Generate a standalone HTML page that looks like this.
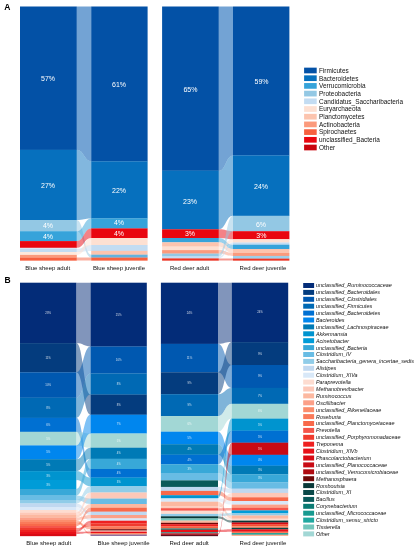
<!DOCTYPE html>
<html><head><meta charset="utf-8"><title>Figure</title>
<style>
html,body{margin:0;padding:0;background:#fff;}
svg{display:block;font-family:"Liberation Sans",Arial,sans-serif;}
</style></head><body>
<svg width="417" height="550" viewBox="0 0 417 550">
<rect width="417" height="550" fill="#fff"/>
<g shape-rendering="geometricPrecision">
<rect x="20" y="6.5" width="56.8" height="143.45" fill="#0351a6"/>
<rect x="20" y="149.8" width="56.8" height="70.35" fill="#0670be"/>
<rect x="20" y="220.0" width="56.8" height="11.35" fill="#93c8e4"/>
<rect x="20" y="231.2" width="56.8" height="10.05" fill="#36a3da"/>
<rect x="20" y="241.1" width="56.8" height="6.85" fill="#e9060f"/>
<rect x="20" y="247.8" width="56.8" height="1.15" fill="#dfe9f5"/>
<rect x="20" y="248.8" width="56.8" height="3.35" fill="#c3dcf2"/>
<rect x="20" y="252.0" width="56.8" height="3.05" fill="#fee8dc"/>
<rect x="20" y="254.9" width="56.8" height="2.85" fill="#fb9a7c"/>
<rect x="20" y="257.6" width="56.8" height="3.05" fill="#f7603f"/>
<rect x="91.2" y="6.5" width="56.4" height="154.95" fill="#0351a6"/>
<rect x="91.2" y="161.3" width="56.4" height="57.25" fill="#0670be"/>
<rect x="91.2" y="218.4" width="56.4" height="10.15" fill="#36a3da"/>
<rect x="91.2" y="228.4" width="56.4" height="9.75" fill="#e9060f"/>
<rect x="91.2" y="238.0" width="56.4" height="7.15" fill="#fde0d2"/>
<rect x="91.2" y="245.0" width="56.4" height="6.05" fill="#c3dcf2"/>
<rect x="91.2" y="250.9" width="56.4" height="3.95" fill="#fcc4ae"/>
<rect x="91.2" y="254.7" width="56.4" height="3.05" fill="#62b2de"/>
<rect x="91.2" y="257.6" width="56.4" height="3.05" fill="#f7603f"/>
<rect x="162.1" y="6.5" width="56.7" height="164.35" fill="#0351a6"/>
<rect x="162.1" y="170.7" width="56.7" height="58.75" fill="#0670be"/>
<rect x="162.1" y="229.3" width="56.7" height="8.85" fill="#e9060f"/>
<rect x="162.1" y="238.0" width="56.7" height="4.45" fill="#36a3da"/>
<rect x="162.1" y="242.3" width="56.7" height="4.45" fill="#fcc4ae"/>
<rect x="162.1" y="246.6" width="56.7" height="3.65" fill="#fde0d2"/>
<rect x="162.1" y="250.1" width="56.7" height="3.65" fill="#fb9a7c"/>
<rect x="162.1" y="253.6" width="56.7" height="3.05" fill="#93c8e4"/>
<rect x="162.1" y="256.5" width="56.7" height="2.05" fill="#c3dcf2"/>
<rect x="162.1" y="258.4" width="56.7" height="2.25" fill="#ec3222"/>
<rect x="233" y="6.5" width="56.4" height="149.05" fill="#0351a6"/>
<rect x="233" y="155.4" width="56.4" height="60.55" fill="#0670be"/>
<rect x="233" y="215.8" width="56.4" height="15.55" fill="#93c8e4"/>
<rect x="233" y="231.2" width="56.4" height="8.15" fill="#e9060f"/>
<rect x="233" y="239.2" width="56.4" height="3.45" fill="#fde0d2"/>
<rect x="233" y="242.5" width="56.4" height="2.35" fill="#c3dcf2"/>
<rect x="233" y="244.7" width="56.4" height="4.45" fill="#36a3da"/>
<rect x="233" y="249.0" width="56.4" height="4.15" fill="#fcc4ae"/>
<rect x="233" y="253.0" width="56.4" height="3.05" fill="#fb9a7c"/>
<rect x="233" y="255.9" width="56.4" height="2.85" fill="#9ccfea"/>
<rect x="233" y="258.6" width="56.4" height="2.05" fill="#ec3222"/>
<path d="M76.8,6.5C84.0,6.5 84.0,6.5 91.2,6.5L91.2,161.3C84.0,161.3 84.0,149.8 76.8,149.8Z" fill="#0058b0" fill-opacity="0.55"/>
<path d="M76.8,149.8C84.0,149.8 84.0,161.3 91.2,161.3L91.2,218.4C84.0,218.4 84.0,220.0 76.8,220.0Z" fill="#0670be" fill-opacity="0.5"/>
<path d="M76.8,220.0C84.0,220.0 84.0,254.7 91.2,254.7L91.2,257.6C84.0,257.6 84.0,231.2 76.8,231.2Z" fill="#93c8e4" fill-opacity="0.5"/>
<path d="M76.8,231.2C84.0,231.2 84.0,218.4 91.2,218.4L91.2,228.4C84.0,228.4 84.0,241.1 76.8,241.1Z" fill="#36a3da" fill-opacity="0.5"/>
<path d="M76.8,241.1C84.0,241.1 84.0,228.4 91.2,228.4L91.2,238.0C84.0,238.0 84.0,247.8 76.8,247.8Z" fill="#e9060f" fill-opacity="0.5"/>
<path d="M76.8,248.8C84.0,248.8 84.0,245.0 91.2,245.0L91.2,250.9C84.0,250.9 84.0,252.0 76.8,252.0Z" fill="#c3dcf2" fill-opacity="0.5"/>
<path d="M76.8,252.0C84.0,252.0 84.0,238.0 91.2,238.0L91.2,245.0C84.0,245.0 84.0,254.9 76.8,254.9Z" fill="#fde0d2" fill-opacity="0.5"/>
<path d="M76.8,257.6C84.0,257.6 84.0,257.6 91.2,257.6L91.2,260.5C84.0,260.5 84.0,260.5 76.8,260.5Z" fill="#f7603f" fill-opacity="0.5"/>
<path d="M218.8,6.5C225.9,6.5 225.9,6.5 233,6.5L233,155.4C225.9,155.4 225.9,170.7 218.8,170.7Z" fill="#0058b0" fill-opacity="0.55"/>
<path d="M218.8,170.7C225.9,170.7 225.9,155.4 233,155.4L233,215.8C225.9,215.8 225.9,229.3 218.8,229.3Z" fill="#0670be" fill-opacity="0.5"/>
<path d="M218.8,229.3C225.9,229.3 225.9,231.2 233,231.2L233,239.2C225.9,239.2 225.9,238.0 218.8,238.0Z" fill="#e9060f" fill-opacity="0.5"/>
<path d="M218.8,238.0C225.9,238.0 225.9,244.7 233,244.7L233,249.0C225.9,249.0 225.9,242.3 218.8,242.3Z" fill="#36a3da" fill-opacity="0.5"/>
<path d="M218.8,242.3C225.9,242.3 225.9,249.0 233,249.0L233,253.0C225.9,253.0 225.9,246.6 218.8,246.6Z" fill="#fcc4ae" fill-opacity="0.5"/>
<path d="M218.8,246.6C225.9,246.6 225.9,239.2 233,239.2L233,242.5C225.9,242.5 225.9,250.1 218.8,250.1Z" fill="#fde0d2" fill-opacity="0.5"/>
<path d="M218.8,250.1C225.9,250.1 225.9,253.0 233,253.0L233,255.9C225.9,255.9 225.9,253.6 218.8,253.6Z" fill="#fb9a7c" fill-opacity="0.5"/>
<path d="M218.8,253.6C225.9,253.6 225.9,215.8 233,215.8L233,231.2C225.9,231.2 225.9,256.5 218.8,256.5Z" fill="#93c8e4" fill-opacity="0.5"/>
<path d="M218.8,256.5C225.9,256.5 225.9,242.5 233,242.5L233,244.7C225.9,244.7 225.9,258.4 218.8,258.4Z" fill="#c3dcf2" fill-opacity="0.5"/>
<path d="M218.8,258.4C225.9,258.4 225.9,258.6 233,258.6L233,260.5C225.9,260.5 225.9,260.5 218.8,260.5Z" fill="#ec3222" fill-opacity="0.5"/>
<rect x="20" y="282.7" width="56.3" height="60.55" fill="#032c78"/>
<rect x="20" y="343.1" width="56.3" height="29.35" fill="#043c7e"/>
<rect x="20" y="372.3" width="56.3" height="25.55" fill="#0058b0"/>
<rect x="20" y="397.7" width="56.3" height="20.25" fill="#0069b4"/>
<rect x="20" y="417.8" width="56.3" height="14.15" fill="#0070d2"/>
<rect x="20" y="431.8" width="56.3" height="13.75" fill="#a2d7d5"/>
<rect x="20" y="445.4" width="56.3" height="13.95" fill="#0086ee"/>
<rect x="20" y="459.2" width="56.3" height="12.05" fill="#007ab6"/>
<rect x="20" y="471.1" width="56.3" height="9.05" fill="#0094cf"/>
<rect x="20" y="480.0" width="56.3" height="9.15" fill="#009cd8"/>
<rect x="20" y="489.0" width="56.3" height="6.75" fill="#38a8d8"/>
<rect x="20" y="495.6" width="56.3" height="4.55" fill="#68bce4"/>
<rect x="20" y="500.0" width="56.3" height="3.65" fill="#90cce8"/>
<rect x="20" y="503.5" width="56.3" height="3.65" fill="#c0d8f0"/>
<rect x="20" y="507.0" width="56.3" height="3.15" fill="#d8e8f8"/>
<rect x="20" y="510.0" width="56.3" height="2.65" fill="#fddcd0"/>
<rect x="20" y="512.5" width="56.3" height="2.65" fill="#fdc8b8"/>
<rect x="20" y="515.0" width="56.3" height="2.65" fill="#fcb8a0"/>
<rect x="20" y="517.5" width="56.3" height="2.65" fill="#fca088"/>
<rect x="20" y="520.0" width="56.3" height="2.15" fill="#fb8d6c"/>
<rect x="20" y="522.0" width="56.3" height="2.15" fill="#fa7a5a"/>
<rect x="20" y="524.0" width="56.3" height="2.15" fill="#f8694a"/>
<rect x="20" y="526.0" width="56.3" height="2.15" fill="#f5554a"/>
<rect x="20" y="528.0" width="56.3" height="2.15" fill="#f03b2e"/>
<rect x="20" y="530.0" width="56.3" height="2.15" fill="#ee2020"/>
<rect x="20" y="532.0" width="56.3" height="2.15" fill="#e81018"/>
<rect x="20" y="534.0" width="56.3" height="2.15" fill="#d80a14"/>
<rect x="90.5" y="282.7" width="56.3" height="63.95" fill="#032c78"/>
<rect x="90.5" y="346.5" width="56.3" height="27.05" fill="#0058b0"/>
<rect x="90.5" y="373.4" width="56.3" height="21.35" fill="#0069b4"/>
<rect x="90.5" y="394.6" width="56.3" height="20.25" fill="#043c7e"/>
<rect x="90.5" y="414.7" width="56.3" height="18.95" fill="#0086ee"/>
<rect x="90.5" y="433.5" width="56.3" height="14.35" fill="#a2d7d5"/>
<rect x="90.5" y="447.7" width="56.3" height="11.25" fill="#007ab6"/>
<rect x="90.5" y="458.8" width="56.3" height="10.35" fill="#38a8d8"/>
<rect x="90.5" y="469.0" width="56.3" height="8.75" fill="#0070d2"/>
<rect x="90.5" y="477.6" width="56.3" height="8.85" fill="#0094cf"/>
<rect x="90.5" y="486.3" width="56.3" height="6.35" fill="#90cce8"/>
<rect x="90.5" y="492.5" width="56.3" height="6.25" fill="#fdc8b8"/>
<rect x="90.5" y="498.6" width="56.3" height="5.55" fill="#68bce4"/>
<rect x="90.5" y="504.0" width="56.3" height="3.95" fill="#fcb8a0"/>
<rect x="90.5" y="507.8" width="56.3" height="4.05" fill="#f8694a"/>
<rect x="90.5" y="511.7" width="56.3" height="3.45" fill="#c0d8f0"/>
<rect x="90.5" y="515.0" width="56.3" height="3.55" fill="#fca088"/>
<rect x="90.5" y="518.4" width="56.3" height="2.45" fill="#d8e8f8"/>
<rect x="90.5" y="520.7" width="56.3" height="2.85" fill="#ee2020"/>
<rect x="90.5" y="523.4" width="56.3" height="3.05" fill="#f03b2e"/>
<rect x="90.5" y="526.3" width="56.3" height="3.05" fill="#fa7a5a"/>
<rect x="90.5" y="529.2" width="56.3" height="1.55" fill="#700808"/>
<rect x="90.5" y="530.6" width="56.3" height="1.15" fill="#fddcd0"/>
<rect x="90.5" y="531.6" width="56.3" height="1.55" fill="#e81018"/>
<rect x="90.5" y="533.0" width="56.3" height="1.65" fill="#fb8d6c"/>
<rect x="90.5" y="534.5" width="56.3" height="1.45" fill="#8a6a98"/>
<rect x="160.9" y="282.7" width="57.1" height="61.25" fill="#032c78"/>
<rect x="160.9" y="343.8" width="57.1" height="28.65" fill="#0058b0"/>
<rect x="160.9" y="372.3" width="57.1" height="22.05" fill="#043c7e"/>
<rect x="160.9" y="394.2" width="57.1" height="22.05" fill="#0069b4"/>
<rect x="160.9" y="416.1" width="57.1" height="15.75" fill="#a2d7d5"/>
<rect x="160.9" y="431.7" width="57.1" height="12.65" fill="#0086ee"/>
<rect x="160.9" y="444.2" width="57.1" height="10.65" fill="#007ab6"/>
<rect x="160.9" y="454.7" width="57.1" height="9.75" fill="#0070d2"/>
<rect x="160.9" y="464.3" width="57.1" height="8.85" fill="#38a8d8"/>
<rect x="160.9" y="473.0" width="57.1" height="7.55" fill="#68bce4"/>
<rect x="160.9" y="480.4" width="57.1" height="6.65" fill="#0a5a5a"/>
<rect x="160.9" y="486.9" width="57.1" height="4.15" fill="#c0d8f0"/>
<rect x="160.9" y="490.9" width="57.1" height="4.45" fill="#f8694a"/>
<rect x="160.9" y="495.2" width="57.1" height="3.35" fill="#0094cf"/>
<rect x="160.9" y="498.4" width="57.1" height="3.45" fill="#d8e8f8"/>
<rect x="160.9" y="501.7" width="57.1" height="4.65" fill="#fcb8a0"/>
<rect x="160.9" y="506.2" width="57.1" height="2.15" fill="#fdc8b8"/>
<rect x="160.9" y="508.2" width="57.1" height="2.65" fill="#f5554a"/>
<rect x="160.9" y="510.7" width="57.1" height="3.35" fill="#fddcd0"/>
<rect x="160.9" y="513.9" width="57.1" height="2.55" fill="#90cce8"/>
<rect x="160.9" y="516.3" width="57.1" height="2.25" fill="#083838"/>
<rect x="160.9" y="518.4" width="57.1" height="2.35" fill="#72c6bc"/>
<rect x="160.9" y="520.6" width="57.1" height="2.35" fill="#fcb8a0"/>
<rect x="160.9" y="522.8" width="57.1" height="1.55" fill="#700808"/>
<rect x="160.9" y="524.2" width="57.1" height="2.35" fill="#ee2020"/>
<rect x="160.9" y="526.4" width="57.1" height="2.05" fill="#f86040"/>
<rect x="160.9" y="528.3" width="57.1" height="1.75" fill="#487870"/>
<rect x="160.9" y="529.9" width="57.1" height="2.35" fill="#e81018"/>
<rect x="160.9" y="532.1" width="57.1" height="1.45" fill="#508880"/>
<rect x="160.9" y="533.4" width="57.1" height="1.45" fill="#c80a14"/>
<rect x="160.9" y="534.7" width="57.1" height="1.45" fill="#601020"/>
<rect x="231.7" y="282.7" width="56.5" height="59.55" fill="#032c78"/>
<rect x="231.7" y="342.1" width="56.5" height="23.05" fill="#043c7e"/>
<rect x="231.7" y="365.0" width="56.5" height="23.05" fill="#0058b0"/>
<rect x="231.7" y="387.9" width="56.5" height="16.05" fill="#0069b4"/>
<rect x="231.7" y="403.8" width="56.5" height="14.95" fill="#a2d7d5"/>
<rect x="231.7" y="418.6" width="56.5" height="12.25" fill="#0094cf"/>
<rect x="231.7" y="430.7" width="56.5" height="12.15" fill="#0070d2"/>
<rect x="231.7" y="442.7" width="56.5" height="12.25" fill="#c80a14"/>
<rect x="231.7" y="454.8" width="56.5" height="11.05" fill="#0086ee"/>
<rect x="231.7" y="465.7" width="56.5" height="8.75" fill="#007ab6"/>
<rect x="231.7" y="474.3" width="56.5" height="8.25" fill="#38a8d8"/>
<rect x="231.7" y="482.4" width="56.5" height="6.45" fill="#68bce4"/>
<rect x="231.7" y="488.7" width="56.5" height="4.35" fill="#c0d8f0"/>
<rect x="231.7" y="492.9" width="56.5" height="4.55" fill="#fdc8b8"/>
<rect x="231.7" y="497.3" width="56.5" height="3.85" fill="#f8694a"/>
<rect x="231.7" y="501.0" width="56.5" height="3.75" fill="#d8e8f8"/>
<rect x="231.7" y="504.6" width="56.5" height="3.45" fill="#fca088"/>
<rect x="231.7" y="507.9" width="56.5" height="2.65" fill="#f5554a"/>
<rect x="231.7" y="510.4" width="56.5" height="2.75" fill="#009cd8"/>
<rect x="231.7" y="513.0" width="56.5" height="2.65" fill="#90cce8"/>
<rect x="231.7" y="515.5" width="56.5" height="3.35" fill="#fcb8a0"/>
<rect x="231.7" y="518.7" width="56.5" height="2.05" fill="#fddcd0"/>
<rect x="231.7" y="520.6" width="56.5" height="2.05" fill="#083838"/>
<rect x="231.7" y="522.5" width="56.5" height="2.15" fill="#d80a14"/>
<rect x="231.7" y="524.5" width="56.5" height="2.05" fill="#f85030"/>
<rect x="231.7" y="526.4" width="56.5" height="1.55" fill="#fb8d6c"/>
<rect x="231.7" y="527.8" width="56.5" height="1.65" fill="#0a4848"/>
<rect x="231.7" y="529.3" width="56.5" height="2.55" fill="#e81018"/>
<rect x="231.7" y="531.7" width="56.5" height="1.55" fill="#fa7a5a"/>
<rect x="231.7" y="533.1" width="56.5" height="1.75" fill="#189a90"/>
<rect x="231.7" y="534.7" width="56.5" height="1.25" fill="#fbb090"/>
<path d="M76.3,282.7C83.4,282.7 83.4,282.7 90.5,282.7L90.5,346.5C83.4,346.5 83.4,343.1 76.3,343.1Z" fill="#032c78" fill-opacity="0.5"/>
<path d="M76.3,343.1C83.4,343.1 83.4,394.6 90.5,394.6L90.5,414.7C83.4,414.7 83.4,372.3 76.3,372.3Z" fill="#043c7e" fill-opacity="0.5"/>
<path d="M76.3,372.3C83.4,372.3 83.4,346.5 90.5,346.5L90.5,373.4C83.4,373.4 83.4,397.7 76.3,397.7Z" fill="#0058b0" fill-opacity="0.5"/>
<path d="M76.3,397.7C83.4,397.7 83.4,373.4 90.5,373.4L90.5,394.6C83.4,394.6 83.4,417.8 76.3,417.8Z" fill="#0069b4" fill-opacity="0.5"/>
<path d="M76.3,417.8C83.4,417.8 83.4,469.0 90.5,469.0L90.5,477.6C83.4,477.6 83.4,431.8 76.3,431.8Z" fill="#0070d2" fill-opacity="0.5"/>
<path d="M76.3,431.8C83.4,431.8 83.4,433.5 90.5,433.5L90.5,447.7C83.4,447.7 83.4,445.4 76.3,445.4Z" fill="#a2d7d5" fill-opacity="0.5"/>
<path d="M76.3,445.4C83.4,445.4 83.4,414.7 90.5,414.7L90.5,433.5C83.4,433.5 83.4,459.2 76.3,459.2Z" fill="#0086ee" fill-opacity="0.5"/>
<path d="M76.3,459.2C83.4,459.2 83.4,447.7 90.5,447.7L90.5,458.8C83.4,458.8 83.4,471.1 76.3,471.1Z" fill="#007ab6" fill-opacity="0.5"/>
<path d="M76.3,471.1C83.4,471.1 83.4,477.6 90.5,477.6L90.5,486.3C83.4,486.3 83.4,480.0 76.3,480.0Z" fill="#0094cf" fill-opacity="0.5"/>
<path d="M76.3,489.0C83.4,489.0 83.4,458.8 90.5,458.8L90.5,469.0C83.4,469.0 83.4,495.6 76.3,495.6Z" fill="#38a8d8" fill-opacity="0.5"/>
<path d="M76.3,495.6C83.4,495.6 83.4,498.6 90.5,498.6L90.5,504.0C83.4,504.0 83.4,500.0 76.3,500.0Z" fill="#68bce4" fill-opacity="0.5"/>
<path d="M76.3,500.0C83.4,500.0 83.4,486.3 90.5,486.3L90.5,492.5C83.4,492.5 83.4,503.5 76.3,503.5Z" fill="#90cce8" fill-opacity="0.5"/>
<path d="M76.3,503.5C83.4,503.5 83.4,511.7 90.5,511.7L90.5,515.0C83.4,515.0 83.4,507.0 76.3,507.0Z" fill="#c0d8f0" fill-opacity="0.5"/>
<path d="M76.3,507.0C83.4,507.0 83.4,518.4 90.5,518.4L90.5,520.7C83.4,520.7 83.4,510.0 76.3,510.0Z" fill="#d8e8f8" fill-opacity="0.5"/>
<path d="M76.3,510.0C83.4,510.0 83.4,530.6 90.5,530.6L90.5,531.6C83.4,531.6 83.4,512.5 76.3,512.5Z" fill="#fddcd0" fill-opacity="0.5"/>
<path d="M76.3,512.5C83.4,512.5 83.4,492.5 90.5,492.5L90.5,498.6C83.4,498.6 83.4,515.0 76.3,515.0Z" fill="#fdc8b8" fill-opacity="0.5"/>
<path d="M76.3,515.0C83.4,515.0 83.4,504.0 90.5,504.0L90.5,507.8C83.4,507.8 83.4,517.5 76.3,517.5Z" fill="#fcb8a0" fill-opacity="0.5"/>
<path d="M76.3,517.5C83.4,517.5 83.4,515.0 90.5,515.0L90.5,518.4C83.4,518.4 83.4,520.0 76.3,520.0Z" fill="#fca088" fill-opacity="0.5"/>
<path d="M76.3,520.0C83.4,520.0 83.4,533.0 90.5,533.0L90.5,534.5C83.4,534.5 83.4,522.0 76.3,522.0Z" fill="#fb8d6c" fill-opacity="0.5"/>
<path d="M76.3,522.0C83.4,522.0 83.4,526.3 90.5,526.3L90.5,529.2C83.4,529.2 83.4,524.0 76.3,524.0Z" fill="#fa7a5a" fill-opacity="0.5"/>
<path d="M76.3,524.0C83.4,524.0 83.4,507.8 90.5,507.8L90.5,511.7C83.4,511.7 83.4,526.0 76.3,526.0Z" fill="#f8694a" fill-opacity="0.5"/>
<path d="M76.3,528.0C83.4,528.0 83.4,523.4 90.5,523.4L90.5,526.3C83.4,526.3 83.4,530.0 76.3,530.0Z" fill="#f03b2e" fill-opacity="0.5"/>
<path d="M76.3,530.0C83.4,530.0 83.4,520.7 90.5,520.7L90.5,523.4C83.4,523.4 83.4,532.0 76.3,532.0Z" fill="#ee2020" fill-opacity="0.5"/>
<path d="M76.3,532.0C83.4,532.0 83.4,531.6 90.5,531.6L90.5,533.0C83.4,533.0 83.4,534.0 76.3,534.0Z" fill="#e81018" fill-opacity="0.5"/>
<path d="M218,282.7C224.85,282.7 224.85,282.7 231.7,282.7L231.7,342.1C224.85,342.1 224.85,343.8 218,343.8Z" fill="#032c78" fill-opacity="0.5"/>
<path d="M218,343.8C224.85,343.8 224.85,365.0 231.7,365.0L231.7,387.9C224.85,387.9 224.85,372.3 218,372.3Z" fill="#0058b0" fill-opacity="0.5"/>
<path d="M218,372.3C224.85,372.3 224.85,342.1 231.7,342.1L231.7,365.0C224.85,365.0 224.85,394.2 218,394.2Z" fill="#043c7e" fill-opacity="0.5"/>
<path d="M218,394.2C224.85,394.2 224.85,387.9 231.7,387.9L231.7,403.8C224.85,403.8 224.85,416.1 218,416.1Z" fill="#0069b4" fill-opacity="0.5"/>
<path d="M218,416.1C224.85,416.1 224.85,403.8 231.7,403.8L231.7,418.6C224.85,418.6 224.85,431.7 218,431.7Z" fill="#a2d7d5" fill-opacity="0.5"/>
<path d="M218,431.7C224.85,431.7 224.85,454.8 231.7,454.8L231.7,465.7C224.85,465.7 224.85,444.2 218,444.2Z" fill="#0086ee" fill-opacity="0.5"/>
<path d="M218,444.2C224.85,444.2 224.85,465.7 231.7,465.7L231.7,474.3C224.85,474.3 224.85,454.7 218,454.7Z" fill="#007ab6" fill-opacity="0.5"/>
<path d="M218,454.7C224.85,454.7 224.85,430.7 231.7,430.7L231.7,442.7C224.85,442.7 224.85,464.3 218,464.3Z" fill="#0070d2" fill-opacity="0.5"/>
<path d="M218,464.3C224.85,464.3 224.85,474.3 231.7,474.3L231.7,482.4C224.85,482.4 224.85,473.0 218,473.0Z" fill="#38a8d8" fill-opacity="0.5"/>
<path d="M218,473.0C224.85,473.0 224.85,482.4 231.7,482.4L231.7,488.7C224.85,488.7 224.85,480.4 218,480.4Z" fill="#68bce4" fill-opacity="0.5"/>
<path d="M218,486.9C224.85,486.9 224.85,488.7 231.7,488.7L231.7,492.9C224.85,492.9 224.85,490.9 218,490.9Z" fill="#c0d8f0" fill-opacity="0.5"/>
<path d="M218,490.9C224.85,490.9 224.85,497.3 231.7,497.3L231.7,501.0C224.85,501.0 224.85,495.2 218,495.2Z" fill="#f8694a" fill-opacity="0.5"/>
<path d="M218,495.2C224.85,495.2 224.85,418.6 231.7,418.6L231.7,430.7C224.85,430.7 224.85,498.4 218,498.4Z" fill="#0094cf" fill-opacity="0.5"/>
<path d="M218,498.4C224.85,498.4 224.85,501.0 231.7,501.0L231.7,504.6C224.85,504.6 224.85,501.7 218,501.7Z" fill="#d8e8f8" fill-opacity="0.5"/>
<path d="M218,501.7C224.85,501.7 224.85,515.5 231.7,515.5L231.7,518.7C224.85,518.7 224.85,506.2 218,506.2Z" fill="#fcb8a0" fill-opacity="0.5"/>
<path d="M218,506.2C224.85,506.2 224.85,492.9 231.7,492.9L231.7,497.3C224.85,497.3 224.85,508.2 218,508.2Z" fill="#fdc8b8" fill-opacity="0.5"/>
<path d="M218,508.2C224.85,508.2 224.85,507.9 231.7,507.9L231.7,510.4C224.85,510.4 224.85,510.7 218,510.7Z" fill="#f5554a" fill-opacity="0.5"/>
<path d="M218,510.7C224.85,510.7 224.85,518.7 231.7,518.7L231.7,520.6C224.85,520.6 224.85,513.9 218,513.9Z" fill="#fddcd0" fill-opacity="0.5"/>
<path d="M218,513.9C224.85,513.9 224.85,513.0 231.7,513.0L231.7,515.5C224.85,515.5 224.85,516.3 218,516.3Z" fill="#90cce8" fill-opacity="0.5"/>
<path d="M218,516.3C224.85,516.3 224.85,520.6 231.7,520.6L231.7,522.5C224.85,522.5 224.85,518.4 218,518.4Z" fill="#083838" fill-opacity="0.5"/>
<path d="M218,529.9C224.85,529.9 224.85,529.3 231.7,529.3L231.7,531.7C224.85,531.7 224.85,532.1 218,532.1Z" fill="#e81018" fill-opacity="0.5"/>
<path d="M218,533.4C224.85,533.4 224.85,442.7 231.7,442.7L231.7,454.8C224.85,454.8 224.85,534.7 218,534.7Z" fill="#c80a14" fill-opacity="0.5"/>
<rect x="304.1" y="67.65" width="12.6" height="5.7" fill="#0351a6"/>
<rect x="304.1" y="75.35" width="12.6" height="5.7" fill="#0670be"/>
<rect x="304.1" y="83.05" width="12.6" height="5.7" fill="#36a3da"/>
<rect x="304.1" y="90.75" width="12.6" height="5.7" fill="#93c8e4"/>
<rect x="304.1" y="98.45" width="12.6" height="5.7" fill="#c3dcf2"/>
<rect x="304.1" y="106.15" width="12.6" height="5.7" fill="#fde0d2"/>
<rect x="304.1" y="113.85" width="12.6" height="5.7" fill="#fcc4ae"/>
<rect x="304.1" y="121.55" width="12.6" height="5.7" fill="#fb9a7c"/>
<rect x="304.1" y="129.25" width="12.6" height="5.7" fill="#f7603f"/>
<rect x="304.1" y="136.95" width="12.6" height="5.7" fill="#e9060f"/>
<rect x="304.1" y="144.65" width="12.6" height="5.7" fill="#c9030d"/>
<rect x="303.2" y="283.0" width="10.9" height="5" fill="#032c78"/>
<rect x="303.2" y="289.9" width="10.9" height="5" fill="#043c7e"/>
<rect x="303.2" y="296.8" width="10.9" height="5" fill="#0058b0"/>
<rect x="303.2" y="303.7" width="10.9" height="5" fill="#0069b4"/>
<rect x="303.2" y="310.6" width="10.9" height="5" fill="#0070d2"/>
<rect x="303.2" y="317.5" width="10.9" height="5" fill="#0086ee"/>
<rect x="303.2" y="324.4" width="10.9" height="5" fill="#007ab6"/>
<rect x="303.2" y="331.3" width="10.9" height="5" fill="#0094cf"/>
<rect x="303.2" y="338.2" width="10.9" height="5" fill="#009cd8"/>
<rect x="303.2" y="345.1" width="10.9" height="5" fill="#38a8d8"/>
<rect x="303.2" y="352.0" width="10.9" height="5" fill="#68bce4"/>
<rect x="303.2" y="358.9" width="10.9" height="5" fill="#90cce8"/>
<rect x="303.2" y="365.8" width="10.9" height="5" fill="#c0d8f0"/>
<rect x="303.2" y="372.7" width="10.9" height="5" fill="#d8e8f8"/>
<rect x="303.2" y="379.6" width="10.9" height="5" fill="#fddcd0"/>
<rect x="303.2" y="386.5" width="10.9" height="5" fill="#fdc8b8"/>
<rect x="303.2" y="393.4" width="10.9" height="5" fill="#fcb8a0"/>
<rect x="303.2" y="400.3" width="10.9" height="5" fill="#fca088"/>
<rect x="303.2" y="407.2" width="10.9" height="5" fill="#fb8d6c"/>
<rect x="303.2" y="414.1" width="10.9" height="5" fill="#fa7a5a"/>
<rect x="303.2" y="421.0" width="10.9" height="5" fill="#f8694a"/>
<rect x="303.2" y="427.9" width="10.9" height="5" fill="#f5554a"/>
<rect x="303.2" y="434.8" width="10.9" height="5" fill="#f03b2e"/>
<rect x="303.2" y="441.7" width="10.9" height="5" fill="#ee2020"/>
<rect x="303.2" y="448.6" width="10.9" height="5" fill="#e81018"/>
<rect x="303.2" y="455.5" width="10.9" height="5" fill="#d80a14"/>
<rect x="303.2" y="462.4" width="10.9" height="5" fill="#c80a14"/>
<rect x="303.2" y="469.3" width="10.9" height="5" fill="#b00a10"/>
<rect x="303.2" y="476.2" width="10.9" height="5" fill="#700808"/>
<rect x="303.2" y="483.1" width="10.9" height="5" fill="#083838"/>
<rect x="303.2" y="490.0" width="10.9" height="5" fill="#0a4848"/>
<rect x="303.2" y="496.9" width="10.9" height="5" fill="#0a5a5a"/>
<rect x="303.2" y="503.8" width="10.9" height="5" fill="#0a7a72"/>
<rect x="303.2" y="510.7" width="10.9" height="5" fill="#189a90"/>
<rect x="303.2" y="517.6" width="10.9" height="5" fill="#20a8a0"/>
<rect x="303.2" y="524.5" width="10.9" height="5" fill="#72c6bc"/>
<rect x="303.2" y="531.4" width="10.9" height="5" fill="#a2d7d5"/>
</g>
<g>
<text x="4.2" y="10.4" font-size="8.5" fill="#000" text-anchor="start" font-weight="bold">A</text>
<text x="4.6" y="283.1" font-size="8.5" fill="#000" text-anchor="start" font-weight="bold">B</text>
<text x="48" y="81.2" font-size="7" fill="#fff" text-anchor="middle" >57%</text>
<text x="119" y="86.5" font-size="7" fill="#fff" text-anchor="middle" >61%</text>
<text x="48" y="187.5" font-size="7" fill="#fff" text-anchor="middle" >27%</text>
<text x="119" y="192.5" font-size="7" fill="#fff" text-anchor="middle" >22%</text>
<text x="48" y="228.1" font-size="7" fill="#fff" text-anchor="middle" >4%</text>
<text x="48" y="239.3" font-size="7" fill="#fff" text-anchor="middle" >4%</text>
<text x="119" y="225.0" font-size="7" fill="#fff" text-anchor="middle" >4%</text>
<text x="119" y="235.8" font-size="7" fill="#fff" text-anchor="middle" >4%</text>
<text x="190.4" y="91.7" font-size="7" fill="#fff" text-anchor="middle" >65%</text>
<text x="261.6" y="83.5" font-size="7" fill="#fff" text-anchor="middle" >59%</text>
<text x="190" y="203.5" font-size="7" fill="#fff" text-anchor="middle" >23%</text>
<text x="261" y="188.5" font-size="7" fill="#fff" text-anchor="middle" >24%</text>
<text x="190" y="235.9" font-size="7" fill="#fff" text-anchor="middle" >3%</text>
<text x="261" y="226.5" font-size="7" fill="#fff" text-anchor="middle" >6%</text>
<text x="261.3" y="237.9" font-size="7" fill="#fff" text-anchor="middle" >3%</text>
<text x="47.7" y="270.3" font-size="6.0" fill="#111" text-anchor="middle" >Blue sheep adult</text>
<text x="119" y="270.3" font-size="6.0" fill="#111" text-anchor="middle" >Blue sheep juvenile</text>
<text x="189.6" y="270.3" font-size="6.0" fill="#111" text-anchor="middle" >Red deer adult</text>
<text x="262.9" y="270.3" font-size="6.0" fill="#111" text-anchor="middle" >Red deer juvenile</text>
<text x="48.7" y="544.8" font-size="6.0" fill="#111" text-anchor="middle" >Blue sheep adult</text>
<text x="123.6" y="544.8" font-size="6.0" fill="#111" text-anchor="middle" >Blue sheep juvenile</text>
<text x="189.1" y="544.8" font-size="6.0" fill="#111" text-anchor="middle" >Red deer adult</text>
<text x="262.9" y="544.8" font-size="6.0" fill="#111" text-anchor="middle" >Red deer juvenile</text>
<text x="48.15" y="313.9" font-size="2.8" fill="#fff" text-anchor="middle" fill-opacity="0.8">28%</text>
<text x="48.15" y="358.70000000000005" font-size="2.8" fill="#fff" text-anchor="middle" fill-opacity="0.8">11%</text>
<text x="48.15" y="386.0" font-size="2.8" fill="#fff" text-anchor="middle" fill-opacity="0.8">10%</text>
<text x="48.15" y="408.75" font-size="2.8" fill="#fff" text-anchor="middle" fill-opacity="0.8">8%</text>
<text x="48.15" y="425.8" font-size="2.8" fill="#fff" text-anchor="middle" fill-opacity="0.8">6%</text>
<text x="48.15" y="439.6" font-size="2.8" fill="#fff" text-anchor="middle" fill-opacity="0.8">5%</text>
<text x="48.15" y="453.29999999999995" font-size="2.8" fill="#fff" text-anchor="middle" fill-opacity="0.8">5%</text>
<text x="48.15" y="466.15" font-size="2.8" fill="#fff" text-anchor="middle" fill-opacity="0.8">5%</text>
<text x="48.15" y="476.55" font-size="2.8" fill="#fff" text-anchor="middle" fill-opacity="0.8">3%</text>
<text x="48.15" y="485.5" font-size="2.8" fill="#fff" text-anchor="middle" fill-opacity="0.8">3%</text>
<text x="118.65" y="315.6" font-size="2.8" fill="#fff" text-anchor="middle" fill-opacity="0.8">25%</text>
<text x="118.65" y="360.95" font-size="2.8" fill="#fff" text-anchor="middle" fill-opacity="0.8">10%</text>
<text x="118.65" y="385.0" font-size="2.8" fill="#fff" text-anchor="middle" fill-opacity="0.8">8%</text>
<text x="118.65" y="405.65" font-size="2.8" fill="#fff" text-anchor="middle" fill-opacity="0.8">8%</text>
<text x="118.65" y="425.1" font-size="2.8" fill="#fff" text-anchor="middle" fill-opacity="0.8">7%</text>
<text x="118.65" y="441.6" font-size="2.8" fill="#fff" text-anchor="middle" fill-opacity="0.8">5%</text>
<text x="118.65" y="454.25" font-size="2.8" fill="#fff" text-anchor="middle" fill-opacity="0.8">4%</text>
<text x="118.65" y="464.9" font-size="2.8" fill="#fff" text-anchor="middle" fill-opacity="0.8">4%</text>
<text x="118.65" y="474.3" font-size="2.8" fill="#fff" text-anchor="middle" fill-opacity="0.8">4%</text>
<text x="118.65" y="482.95000000000005" font-size="2.8" fill="#fff" text-anchor="middle" fill-opacity="0.8">3%</text>
<text x="189.45" y="314.25" font-size="2.8" fill="#fff" text-anchor="middle" fill-opacity="0.8">24%</text>
<text x="189.45" y="359.05" font-size="2.8" fill="#fff" text-anchor="middle" fill-opacity="0.8">11%</text>
<text x="189.45" y="384.25" font-size="2.8" fill="#fff" text-anchor="middle" fill-opacity="0.8">9%</text>
<text x="189.45" y="406.15" font-size="2.8" fill="#fff" text-anchor="middle" fill-opacity="0.8">9%</text>
<text x="189.45" y="424.9" font-size="2.8" fill="#fff" text-anchor="middle" fill-opacity="0.8">6%</text>
<text x="189.45" y="438.95" font-size="2.8" fill="#fff" text-anchor="middle" fill-opacity="0.8">5%</text>
<text x="189.45" y="450.45" font-size="2.8" fill="#fff" text-anchor="middle" fill-opacity="0.8">4%</text>
<text x="189.45" y="460.5" font-size="2.8" fill="#fff" text-anchor="middle" fill-opacity="0.8">4%</text>
<text x="189.45" y="469.65" font-size="2.8" fill="#fff" text-anchor="middle" fill-opacity="0.8">3%</text>
<text x="259.95" y="313.4" font-size="2.8" fill="#fff" text-anchor="middle" fill-opacity="0.8">24%</text>
<text x="259.95" y="354.55" font-size="2.8" fill="#fff" text-anchor="middle" fill-opacity="0.8">9%</text>
<text x="259.95" y="377.45" font-size="2.8" fill="#fff" text-anchor="middle" fill-opacity="0.8">9%</text>
<text x="259.95" y="396.85" font-size="2.8" fill="#fff" text-anchor="middle" fill-opacity="0.8">7%</text>
<text x="259.95" y="412.20000000000005" font-size="2.8" fill="#fff" text-anchor="middle" fill-opacity="0.8">6%</text>
<text x="259.95" y="425.65" font-size="2.8" fill="#fff" text-anchor="middle" fill-opacity="0.8">5%</text>
<text x="259.95" y="437.7" font-size="2.8" fill="#fff" text-anchor="middle" fill-opacity="0.8">5%</text>
<text x="259.95" y="449.75" font-size="2.8" fill="#fff" text-anchor="middle" fill-opacity="0.8">5%</text>
<text x="259.95" y="461.25" font-size="2.8" fill="#fff" text-anchor="middle" fill-opacity="0.8">4%</text>
<text x="259.95" y="471.0" font-size="2.8" fill="#fff" text-anchor="middle" fill-opacity="0.8">3%</text>
<text x="259.95" y="479.35" font-size="2.8" fill="#fff" text-anchor="middle" fill-opacity="0.8">3%</text>
<text x="319" y="72.8" font-size="6.45" fill="#111" text-anchor="start" >Firmicutes</text>
<text x="319" y="80.5" font-size="6.45" fill="#111" text-anchor="start" >Bacteroidetes</text>
<text x="319" y="88.2" font-size="6.45" fill="#111" text-anchor="start" >Verrucomicrobia</text>
<text x="319" y="95.89999999999999" font-size="6.45" fill="#111" text-anchor="start" >Proteobacteria</text>
<text x="319" y="103.6" font-size="6.45" fill="#111" text-anchor="start" >Candidatus_Saccharibacteria</text>
<text x="319" y="111.3" font-size="6.45" fill="#111" text-anchor="start" >Euryarchaeota</text>
<text x="319" y="119.0" font-size="6.45" fill="#111" text-anchor="start" >Planctomycetes</text>
<text x="319" y="126.7" font-size="6.45" fill="#111" text-anchor="start" >Actinobacteria</text>
<text x="319" y="134.4" font-size="6.45" fill="#111" text-anchor="start" >Spirochaetes</text>
<text x="319" y="142.10000000000002" font-size="6.45" fill="#111" text-anchor="start" >unclassified_Bacteria</text>
<text x="319" y="149.8" font-size="6.45" fill="#111" text-anchor="start" >Other</text>
<text x="316" y="287.4" font-size="5.41" fill="#111" text-anchor="start" font-style="italic">unclassified_Ruminococcaceae</text>
<text x="316" y="294.29999999999995" font-size="5.41" fill="#111" text-anchor="start" font-style="italic">unclassified_Bacteroidales</text>
<text x="316" y="301.2" font-size="5.41" fill="#111" text-anchor="start" font-style="italic">unclassified_Clostridiales</text>
<text x="316" y="308.09999999999997" font-size="5.41" fill="#111" text-anchor="start" font-style="italic">unclassified_Firmicutes</text>
<text x="316" y="315.0" font-size="5.41" fill="#111" text-anchor="start" font-style="italic">unclassified_Bacteroidetes</text>
<text x="316" y="321.9" font-size="5.41" fill="#111" text-anchor="start" font-style="italic">Bacteroides</text>
<text x="316" y="328.79999999999995" font-size="5.41" fill="#111" text-anchor="start" font-style="italic">unclassified_Lachnospiraceae</text>
<text x="316" y="335.7" font-size="5.41" fill="#111" text-anchor="start" font-style="italic">Akkermansia</text>
<text x="316" y="342.59999999999997" font-size="5.41" fill="#111" text-anchor="start" font-style="italic">Acinetobacter</text>
<text x="316" y="349.5" font-size="5.41" fill="#111" text-anchor="start" font-style="italic">unclassified_Bacteria</text>
<text x="316" y="356.4" font-size="5.41" fill="#111" text-anchor="start" font-style="italic">Clostridium_IV</text>
<text x="316" y="363.29999999999995" font-size="5.41" fill="#111" text-anchor="start" font-style="italic">Saccharibacteria_genera_incertae_sedis</text>
<text x="316" y="370.2" font-size="5.41" fill="#111" text-anchor="start" font-style="italic">Alistipes</text>
<text x="316" y="377.09999999999997" font-size="5.41" fill="#111" text-anchor="start" font-style="italic">Clostridium_XIVa</text>
<text x="316" y="384.0" font-size="5.41" fill="#111" text-anchor="start" font-style="italic">Paraprevotella</text>
<text x="316" y="390.9" font-size="5.41" fill="#111" text-anchor="start" font-style="italic">Methanobrevibacter</text>
<text x="316" y="397.79999999999995" font-size="5.41" fill="#111" text-anchor="start" font-style="italic">Ruminococcus</text>
<text x="316" y="404.7" font-size="5.41" fill="#111" text-anchor="start" font-style="italic">Oscillibacter</text>
<text x="316" y="411.59999999999997" font-size="5.41" fill="#111" text-anchor="start" font-style="italic">unclassified_Rikenellaceae</text>
<text x="316" y="418.5" font-size="5.41" fill="#111" text-anchor="start" font-style="italic">Roseburia</text>
<text x="316" y="425.4" font-size="5.41" fill="#111" text-anchor="start" font-style="italic">unclassified_Planctomycetaceae</text>
<text x="316" y="432.29999999999995" font-size="5.41" fill="#111" text-anchor="start" font-style="italic">Prevotella</text>
<text x="316" y="439.2" font-size="5.41" fill="#111" text-anchor="start" font-style="italic">unclassified_Porphyromonadaceae</text>
<text x="316" y="446.1" font-size="5.41" fill="#111" text-anchor="start" font-style="italic">Treponema</text>
<text x="316" y="453.0" font-size="5.41" fill="#111" text-anchor="start" font-style="italic">Clostridium_XlVb</text>
<text x="316" y="459.9" font-size="5.41" fill="#111" text-anchor="start" font-style="italic">Phascolarctobacterium</text>
<text x="316" y="466.79999999999995" font-size="5.41" fill="#111" text-anchor="start" font-style="italic">unclassified_Planococcaceae</text>
<text x="316" y="473.7" font-size="5.41" fill="#111" text-anchor="start" font-style="italic">unclassified_Verrucomicrobiaceae</text>
<text x="316" y="480.6" font-size="5.41" fill="#111" text-anchor="start" font-style="italic">Methanosphaera</text>
<text x="316" y="487.5" font-size="5.41" fill="#111" text-anchor="start" font-style="italic">Romboutsia</text>
<text x="316" y="494.4" font-size="5.41" fill="#111" text-anchor="start" font-style="italic">Clostridium_XI</text>
<text x="316" y="501.29999999999995" font-size="5.41" fill="#111" text-anchor="start" font-style="italic">Bacillus</text>
<text x="316" y="508.2" font-size="5.41" fill="#111" text-anchor="start" font-style="italic">Corynebacterium</text>
<text x="316" y="515.1" font-size="5.41" fill="#111" text-anchor="start" font-style="italic">unclassified_Micrococcaceae</text>
<text x="316" y="522.0" font-size="5.41" fill="#111" text-anchor="start" font-style="italic">Clostridium_sensu_stricto</text>
<text x="316" y="528.9" font-size="5.41" fill="#111" text-anchor="start" font-style="italic">Tissierella</text>
<text x="316" y="535.8" font-size="5.41" fill="#111" text-anchor="start" font-style="italic">Other</text>
</g>
</svg>
</body></html>
